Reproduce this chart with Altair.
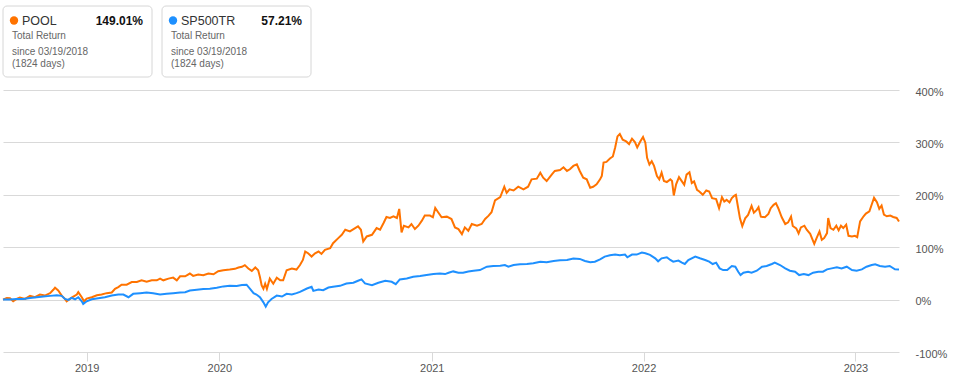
import altair as alt
import pandas as pd

# ---------------- data (days since 03/19/2018, total return in %) ----------------
series_names = ["POOL", "SP500TR"]
total_returns = ["149.01%", "57.21%"]
subtitle_1 = "Total Return"
subtitle_2 = "since 03/19/2018"
subtitle_3 = "(1824 days)"

year_days = [288, 653, 1019, 1384, 1749]
year_labels = ["2019", "2020", "2021", "2022", "2023"]
y_ticks = [-100, 0, 100, 200, 300, 400]

pool_days = [0, 13, 24, 35, 47, 58, 76, 93, 110, 127, 144, 162, 173, 179, 190, 202, 213, 219, 230, 242,
             254, 259, 271, 279, 288, 302, 316, 329, 343, 357, 366, 375, 384, 398, 412, 426, 439, 453, 467, 481,
             490, 499, 513, 526, 536, 545, 559, 572, 581, 595, 609, 623, 637, 650, 660, 671, 680, 686, 692, 697,
             703, 709, 715, 720, 723, 726, 729, 732, 735, 740, 746, 752, 758, 763, 769, 778, 786,
             792, 797, 801, 806, 812, 818, 824, 829, 835, 844, 849, 858, 864, 870, 878, 887, 892, 897, 901,
             907, 916, 924, 930, 936, 941, 947, 953, 959, 963, 967, 971, 979, 984, 990, 996, 1002, 1007, 1016,
             1021, 1025, 1030, 1036, 1045, 1053, 1059, 1065, 1071, 1076, 1082, 1088, 1097, 1105, 1111, 1117,
             1122, 1128, 1137, 1144, 1148, 1153, 1160, 1168, 1177, 1185, 1191, 1200, 1206, 1211, 1217, 1226,
             1231, 1240, 1246, 1252, 1257, 1263, 1269, 1274, 1280, 1286, 1292, 1297, 1303,
             1309, 1312, 1315, 1320, 1326, 1331, 1335, 1339, 1343, 1348, 1354, 1359, 1364, 1369, 1373, 1378,
             1383, 1387, 1390, 1394, 1398, 1402, 1407, 1411, 1415, 1419, 1424, 1430, 1433, 1436, 1440, 1445,
             1450, 1454, 1458, 1463, 1467, 1471, 1476, 1480, 1486, 1492, 1497, 1502, 1509, 1514, 1519, 1523,
             1527, 1532, 1536, 1540, 1543, 1547, 1550, 1554, 1559, 1564, 1570, 1574, 1579, 1582, 1586, 1593,
             1599, 1603, 1608, 1612, 1616, 1622, 1628, 1633, 1638, 1641, 1647, 1651, 1655, 1661, 1665, 1671,
             1674, 1678, 1682, 1687, 1691, 1695, 1700, 1702, 1706, 1711, 1716, 1720, 1724, 1728, 1733, 1737,
             1743, 1748, 1752, 1757, 1763, 1767, 1773, 1777, 1781, 1786, 1790, 1794, 1798, 1803, 1809, 1814,
             1820, 1824]
pool_values = [0, 3.2, 2.6, -3.2, 1.3, 3.9, 1.3, 7.1, 4.5, 9.7, 7.7, 12.3, 18.7, 22.6, 17.4, 7.7, 1.3, -3.2, 1.3, 5.8,
               9.7, 14.2, 4.5, -3.2, 1.9, 4.5, 8.4, 9.7, 12.3, 13.5, 20.6, 23.9, 28.4, 28.4, 33.5, 33.5, 36.8, 34.2, 36.8, 36.8,
               40, 36.8, 40, 41.9, 36.8, 44.5, 44.5, 49.7, 45.2, 47.7, 46.5, 49.7, 48.4, 54.2, 56.1, 57.4, 58.7, 61.3, 62.6, 65.8,
               59.4, 54.8, 61.3, 56.1, 43.2, 27.1, 20.6, 30.3, 20.6, 40, 30.3, 41.9, 36.8, 36.8, 56.1, 59.4, 57.4,
               66.0, 75.6, 91.7, 88.5, 82.1, 88.5, 91.7, 87.2, 94.9, 98.1, 107.7, 117.3, 123.7, 133.3, 130.1, 136.5, 139.7, 133.3, 110.9,
               120.5, 123.7, 136.5, 133.3, 146.2, 157.7, 155.8, 159, 155.8, 173.1, 128.2, 141, 137.8, 144.2, 134.6, 141, 150.6, 160.3, 160.3,
               157.1, 175, 166.7, 157.1, 158.3, 153.8, 137.8, 134.6, 125, 137.8, 131.4, 144.2, 141, 144.2, 153.8, 160.3,
               166.7, 189.1, 195.5, 215.4, 203.8, 210.3, 208.3, 215.4, 210.3, 215.4, 229.5, 230.8, 242.3, 232.7, 226.3, 239.1,
               245.5, 247.4, 252.6, 245.5, 248.7, 255.1, 258.3, 245.5, 232.7, 229.5, 213.5, 215.4, 219.9,
               229.5, 235.9, 261.5, 262.8, 269.2, 273.1, 290.4, 311.5, 316, 305.1, 301.9, 296.8, 307.1, 300.6, 290.4, 301.3,
               310.3, 299.4, 270.5, 257.7, 264.1, 255.1, 235.9, 229.5, 242.3, 226.3, 224.4, 229.5, 226.3, 198.7, 219.9, 233.6,
               225.6, 219.2, 238.5, 243.1, 222.4, 225.6, 209.6, 206.4, 200, 208.3, 206.4, 193.6, 191.7, 174.4, 195.5, 187.2,
               190.4, 185.3, 193.6, 198.1, 200, 174.4, 155.1, 140.4, 155.1, 161.5, 178.8, 166, 171.2, 176.3, 158.3, 157.1,
               163.5, 174.4, 180.8, 184, 174.4, 157.1, 144.2, 147.4, 158.3, 140.4, 135.9, 126.3, 137.8, 141, 133.3, 125.6,
               117.3, 106.4, 117.3, 130.1, 114.1, 117.3, 126.9, 155.8, 136.5, 133.3, 141, 132.1, 141, 136.5, 142.9, 121.8,
               120.5, 121.8, 119.2, 149.4, 159, 164.1, 168.6, 181.4, 194.2, 185.9, 173.1, 179.5, 162.2, 159, 160.3, 157.7,
               155.8, 149.01]

sp_days = [0, 24, 47, 70, 93, 116, 139, 162, 185, 202, 213, 225, 236, 248, 259, 271, 276, 288, 302, 320,
           338, 357, 375, 389, 403, 416, 435, 453, 471, 490, 508, 526, 545, 559, 572, 591, 609, 627, 646, 660,
           671, 683, 692, 700, 706, 712, 717, 723, 729, 733, 737, 743, 752, 761, 769, 778, 786,
           792, 804, 812, 815, 824, 832, 841, 849, 861, 872, 884, 892, 898, 904, 916, 927, 939, 950, 957, 964,
           976, 987, 999, 1010, 1022, 1033, 1042, 1048, 1056, 1065, 1073, 1082, 1091, 1102, 1114, 1125, 1137,
           1145, 1151, 1160, 1171, 1183, 1194, 1206, 1217, 1229, 1240, 1252, 1263, 1274, 1283, 1292, 1300,
           1309, 1317, 1326, 1335, 1343, 1352, 1356, 1364, 1372, 1381, 1387, 1395, 1404, 1409, 1415, 1424,
           1430, 1435, 1444, 1450, 1455, 1461, 1473, 1481, 1490, 1497, 1503, 1509, 1515, 1521, 1528, 1536,
           1542, 1547, 1551, 1556, 1564, 1570, 1579, 1588, 1596, 1605, 1610, 1619, 1628, 1636, 1645, 1652,
           1660, 1668, 1676, 1685, 1693, 1700, 1708, 1717, 1725, 1734, 1743, 1751, 1760, 1768, 1777, 1783,
           1791, 1800, 1808, 1817, 1824]
sp_values = [0, 0, 1.3, 1.3, 3.2, 4.5, 5.8, 7.1, 8.4, 7.1, 1.3, -0.6, 3.2, 0.6, 4.5, -3.2, -8.4, -3.2, 0.6, 2.6,
             4.5, 7.7, 9.7, 9.7, 4.5, 11, 12.3, 13.5, 12.3, 9.7, 11, 12.3, 13.5, 14.2, 17.4, 18.7, 20, 20.6, 22.6, 25.2,
             26.5, 25.8, 27.7, 28.4, 20.6, 12.3, 9.7, 4.5, -5.2, -13.5, -5.2, 1.3, 7.7, 5.8, 11, 9.7, 12.3,
             14.7, 21.2, 24.4, 16.7, 19.2, 17.9, 23.1, 24.4, 26.3, 30.8, 32.1, 35.9, 38.5, 30.8, 27.6, 32.1, 35.9, 34, 29.5, 38.5,
             40.4, 43.6, 44.9, 46.8, 48.7, 50, 48.7, 51.3, 53.8, 51.3, 51.3, 53.8, 55.1, 56.4, 62.8, 64.1, 64.7,
             66, 62.8, 66, 67.3, 67.9, 69.2, 72.4, 71.2, 73.7, 75, 75.6, 78.2, 77.6, 73.7, 71.2, 72.4,
             76.9, 82.1, 84.6, 85.9, 84.6, 85.9, 80.8, 85.9, 85.9, 89.7, 88.5, 85.3, 78.8, 73.1, 78.8, 80.8,
             75.6, 72.4, 74.4, 70.5, 67.9, 75.6, 82.1, 78.8, 75.6, 72.4, 67.9, 70.5, 59.6, 56.4, 56.4, 64.1,
             62.8, 53.2, 46.8, 51.3, 53.2, 51.3, 55.1, 62.8, 64.1, 67.9, 70.5, 66, 59.6, 55.1, 53.2, 46.8,
             48.7, 46.8, 51.3, 53.2, 53.2, 57.7, 59.6, 61.5, 59.6, 62.8, 56.4, 55.1, 57.7, 62.8, 66, 67.3,
             64.1, 62.8, 64.1, 57.7, 57.21]

colors = ["#FF7300", "#1E90FF"]

# ---------------- chart ----------------
FONT = "Liberation Sans"
W, H = 896, 262

pool_df = pd.DataFrame({"day": pool_days, "ret": pool_values, "series": series_names[0]})
sp_df = pd.DataFrame({"day": sp_days, "ret": sp_values, "series": series_names[1]})

x_enc = alt.X(
    "day:Q",
    scale=alt.Scale(domain=[0, 288, 653, 1824], range=[0, 83.7, 216.3, W], nice=False, zero=False),
    axis=alt.Axis(
        values=year_days,
        labelExpr="%s[indexof(%s, datum.value)]" % (str(year_labels), str(year_days)),
        title=None, grid=False, domain=False, ticks=True, tickColor="#d9d9d9", tickSize=9,
        labelFont=FONT, labelFontSize=11, labelColor="#555555", labelPadding=1,
        labelAlign="center", labelFlush=False,
    ),
)
y_enc = alt.Y(
    "ret:Q",
    scale=alt.Scale(domain=[-100, 400], nice=False, zero=False),
    axis=alt.Axis(
        orient="right", values=y_ticks, labelExpr="datum.value + '%'", title=None,
        grid=True, gridColor="#d9d9d9", gridWidth=1, domain=False, ticks=False,
        labelFont=FONT, labelFontSize=11, labelColor="#555555", labelPadding=16,
        labelAlign="left", labelBaseline="middle", labelOffset=2,
    ),
)

pool_line = alt.Chart(pool_df).mark_line(color=colors[0], strokeWidth=2).encode(x=x_enc, y=y_enc)
sp_line = alt.Chart(sp_df).mark_line(color=colors[1], strokeWidth=2).encode(x="day:Q", y="ret:Q")

one = pd.DataFrame({"k": [0]})


def legend_box(x0, i):
    box = alt.Chart(one).mark_rect(
        fill="white", stroke="#d6d6d6", strokeWidth=1, cornerRadius=4
    ).encode(x=alt.value(x0), x2=alt.value(x0 + 149), y=alt.value(-84), y2=alt.value(-13))
    dot = alt.Chart(one).mark_circle(color=colors[i], opacity=1, size=70).encode(
        x=alt.value(x0 + 11), y=alt.value(-69.5))
    name = alt.Chart(one).mark_text(
        text=series_names[i], font=FONT, fontSize=12.5, color="#333333", align="left", baseline="middle"
    ).encode(x=alt.value(x0 + 19), y=alt.value(-69.5))
    pct = alt.Chart(one).mark_text(
        text=total_returns[i], font=FONT, fontSize=12, fontWeight="bold", color="#111111",
        align="right", baseline="middle"
    ).encode(x=alt.value(x0 + 140), y=alt.value(-69.5))
    s1 = alt.Chart(one).mark_text(
        text=subtitle_1, font=FONT, fontSize=10, color="#666666", align="left", baseline="middle"
    ).encode(x=alt.value(x0 + 9), y=alt.value(-54))
    s2 = alt.Chart(one).mark_text(
        text=subtitle_2, font=FONT, fontSize=10, color="#666666", align="left", baseline="middle"
    ).encode(x=alt.value(x0 + 9), y=alt.value(-38))
    s3 = alt.Chart(one).mark_text(
        text=subtitle_3, font=FONT, fontSize=10, color="#666666", align="left", baseline="middle"
    ).encode(x=alt.value(x0 + 9), y=alt.value(-26))
    return [box, dot, name, pct, s1, s2, s3]


layers = [pool_line, sp_line] + legend_box(0, 0) + legend_box(159, 1)

chart = alt.layer(*layers).properties(
    width=W, height=H,
    autosize=alt.AutoSizeParams(type="none"),
    padding={"left": 3, "top": 90, "right": 61, "bottom": 25},
    background="white",
).configure_view(stroke=None, strokeWidth=0)

chart.save("out.html", embed_options={"renderer": "svg", "actions": False})
